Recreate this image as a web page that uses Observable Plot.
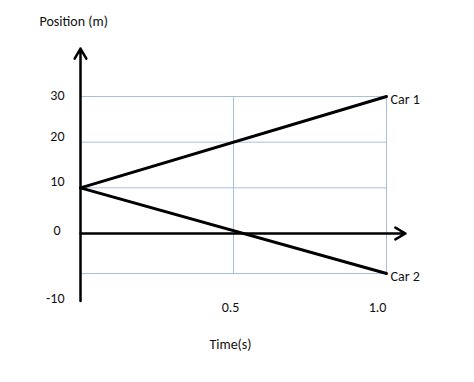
<!DOCTYPE html>
<html>
<head>
<meta charset="utf-8">
<script src="https://cdn.jsdelivr.net/npm/d3@7"></script>
<script src="https://cdn.jsdelivr.net/npm/@observablehq/plot@0.6"></script>
<style>
  html, body { margin: 0; padding: 0; background: #fff; }
  svg { display: block; }
</style>
</head>
<body>
<div id="chart"></div>
<script>
// Data
const times = [0, 1.0];
const car1 = [10, 30];
const car2 = [10, -10];
const seriesNames = ["Car 1", "Car 2"];
const yGridValues = [30, 20, 10, -10];
const xGridValues = [0.5, 1.0];
const yTickValues = [30, 20, 10, 0, -10];
const yTickLabels = ["30", "20", "10", "0", "-10"];
const xTickValues = [0.5, 1.0];
const xTickLabels = ["0.5", "1.0"];
const xTitle = "Time(s)";
const yTitle = "Position (m)";

const lines = [
  ...times.map((t, i) => ({t, v: car1[i], car: seriesNames[0]})),
  ...times.map((t, i) => ({t, v: car2[i], car: seriesNames[1]}))
];
const ends = [
  {t: times[1], v: car1[1], car: seriesNames[0]},
  {t: times[1], v: car2[1], car: seriesNames[1]}
];
const yTicks = yTickValues.map((v, i) => ({v, label: yTickLabels[i]}));
const xTicks = xTickValues.map((t, i) => ({t, label: xTickLabels[i]}));

const font = "Carlito, Calibri, Lato, sans-serif";
const gridColor = "#a9bedb";
const xMin = 0, xMax = 1.0;
const yMin = -10, yMax = 30;
const txt = "#111";

const yLab = (pred, dx, dy) =>
  Plot.text(yTicks.filter(pred), {x: 0, y: "v", text: "label", textAnchor: "end", dx, dy, fill: txt});
const xLab = (pred, dx) =>
  Plot.text(xTicks.filter(pred), {x: "t", y: yMin, text: "label", dx, dy: 34, fill: txt});

const chart = Plot.plot({
  width: 474,
  height: 382,
  margin: 0,
  style: {fontFamily: font, fontSize: "14px", color: txt, background: "#fff"},
  x: {domain: [0, 1], range: [80, 386], axis: null},
  // the hand-drawn reference squeezes the negative half of the axis slightly
  y: {domain: [0, 30], range: [233, 96], axis: null, transform: v => (v < 0 ? v * 0.876 : v)},
  marks: [
    // grid
    Plot.ruleY(yGridValues, {x1: xMin, x2: xMax, stroke: gridColor, strokeWidth: 1}),
    Plot.ruleX(xGridValues, {y1: yMin, y2: yMax, stroke: gridColor, strokeWidth: 1}),
    // axes with arrows
    Plot.arrow([0], {x1: 0, x2: 0, y1: -16.9, y2: 40.5, stroke: "#000", strokeWidth: 2.5, headLength: 7, bend: 0}),
    Plot.arrow([0], {x1: 0, x2: 1.062, y1: 0, y2: 0, stroke: "#000", strokeWidth: 2.5, headLength: 7, bend: 0}),
    // series lines
    Plot.line(lines, {x: "t", y: "v", z: "car", stroke: "#000", strokeWidth: 3}),
    Plot.text(ends, {x: "t", y: "v", text: "car", textAnchor: "start", dx: 4, dy: 3, fill: txt}),
    // y tick labels
    yLab(d => d.v === 30, -16, -1),
    yLab(d => d.v === 20 || d.v === 10, -16, -6),
    yLab(d => d.v === 0, -20, -3),
    yLab(d => d.v === -10, -16, 25),
    // x tick labels
    xLab(d => d.t === 0.5, -3),
    xLab(d => d.t === 1, -9),
    // titles
    Plot.text([xTitle], {x: 0.5, y: yMin, text: d => d, dx: -3, dy: 71, fill: txt}),
    Plot.text([yTitle], {frameAnchor: "top-left", text: d => d, dx: 39, dy: 16, textAnchor: "start", fill: txt})
  ]
});
document.getElementById("chart").appendChild(chart);
</script>
</body>
</html>
